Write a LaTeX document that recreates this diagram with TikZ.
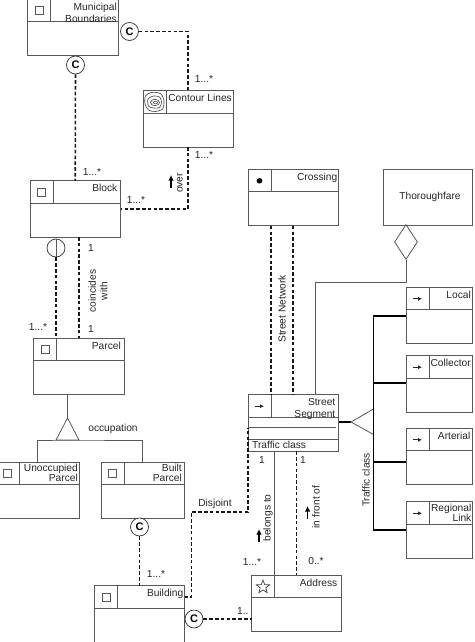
\documentclass[tikz,border=0pt]{standalone}
\usepackage{fontspec}
\setmainfont{Liberation Sans}
\usetikzlibrary{arrows.meta, positioning, calc, shapes.geometric}

\tikzset{
    classrect/.style={draw=black!65,line width=0.8pt,inner sep=0pt,outer sep=0pt,anchor=north west,minimum height=56.5pt},
    classline/.style={draw=black!65,line width=0.8pt},
    classtitle/.style={anchor=north east,inner sep=0pt,align=right,font=\fontsize{10.2}{12}\selectfont,text=black!85},
    lbl/.style={inner sep=0pt,align=center,font=\fontsize{10.2}{11.5}\selectfont,text=black!85},
    assoc/.style={line width=1.6pt,dash pattern=on 3.6pt off 2.2pt,black!90},
    cmark/.style={circle,draw=black!80,line width=0.7pt,fill=white,inner sep=0pt,minimum size=18pt,font=\fontsize{11}{11}\selectfont\bfseries},
    treeline/.style={line width=1.7pt,black},
    uparrow/.style={line width=1.3pt,-{Latex[length=5.5pt,width=5.5pt]},black},
    tighttitle/.style={yshift=1.6pt,font=\fontsize{10.2}{10}\selectfont},
}

\newcommand{\iconsquare}{\draw[black!65,line width=0.7pt] (-4,-4) rectangle (4,4);}
\newcommand{\iconarrow}{\draw[black!85,line width=0.8pt,-{Latex[length=4pt,width=4pt]}] (-5,0) -- (4.5,0);}

% name, x, y, width, title options, title, icon
\newcommand{\classbox}[7]{
    \node[classrect,minimum width=#4pt] (#1) at (#2,#3) {};
    \draw[classline] ({#2},{#3+22.5}) -- ++(#4,0);
    \draw[classline] ({#2+23},#3) -- ++(0,22.5);
    \coordinate (#1div) at ({#2+23},#3);
    \node[classtitle,#5] (#1title) at ({#2+#4},{#3+3.6}) {#6};
    \begin{scope}[shift={({#2+11.5},{#3+11.5})}] #7 \end{scope}
}

\begin{document}
\begin{tikzpicture}[x=1pt,y=-1pt]

    \clip (0,0) rectangle (474,642);

    % 左列
    \classbox{municipal}{27.5}{-1}{90.5}{xshift=-1pt}{Municipal\\Boundaries}{\iconsquare}
    \classbox{block}{30}{180.5}{90.5}{xshift=-3pt}{Block}{\iconsquare}
    \classbox{parcel}{33.5}{338}{90.5}{xshift=-3pt}{Parcel}{\iconsquare}
    \classbox{unoccupied}{-4}{462}{83}{xshift=-1pt,tighttitle}{Unoccupied\\Parcel}{\iconsquare}
    \classbox{built}{101}{462}{83.5}{xshift=-2.5pt,tighttitle}{Built\\Parcel}{\iconsquare}
    \classbox{building}{94.5}{585.5}{90}{xshift=-1pt}{Building}{\iconsquare}

    % 等高线
    \classbox{contour}{143}{90.5}{90}{xshift=-1pt}{Contour Lines}{
        \draw[black!75,line width=0.6pt] plot[smooth cycle] coordinates {(-9,-6) (-3,-9.5) (6,-8.5) (9.5,-1) (8,7) (1,9.5) (-6,8) (-9.5,2)};
        \draw[black!75,line width=0.6pt] plot[smooth cycle] coordinates {(-6.5,-3) (-1,-6) (5,-5) (7,0) (5,5.5) (-1,6) (-6,4)};
        \draw[black!75,line width=0.6pt] (0.5,0.5) ellipse (4.5 and 3.2);
        \draw[black!75,line width=0.6pt] (1,0.5) ellipse (2 and 1.4);
    }

    % 中列
    \classbox{crossing}{248}{169.3}{90.5}{xshift=-1pt}{Crossing}{
        \fill[black] (0,0) circle (2.8);
    }
    \classbox{street}{248}{394.7}{90.5}{xshift=-3pt}{Street\\Segment}{\iconarrow}
    \classbox{address}{251.5}{575}{90}{xshift=-4pt}{Address}{
        \node[star,star points=5,star point ratio=2.4,draw=black!75,line width=0.7pt,inner sep=0pt,minimum size=14pt] (addressstar) at (0,0.5) {};
    }

    % 街段的属性栏
    \draw[classline] (248,427.7) -- (336,427.7);
    \draw[classline] (248,439.3) -- (338.5,439.3);
    \node[lbl,anchor=west] (trafficattr) at (252,444.8) {Traffic class};

    % 右列
    \node[classrect,minimum width=89.5pt] (thoroughfare) at (383,169.3) {};
    \node[lbl] (thoroughfarename) at (430,197) {Thoroughfare};
    \classbox{local}{406}{287.3}{66.5}{xshift=-1.5pt}{Local}{\iconarrow}
    \classbox{collector}{406}{355.7}{66.5}{xshift=-1.5pt}{Collector}{\iconarrow}
    \classbox{arterial}{406}{428.3}{66.5}{xshift=-2pt}{Arterial}{\iconarrow}
    \classbox{regional}{406}{501.7}{66.5}{xshift=-1pt,tighttitle}{Regional\\Link}{\iconarrow}

    % 圆圈
    \node[cmark] (cmunicipal) at (129.5,31.5) {C};
    \node[cmark] (cblock) at (75.5,65) {C};
    \node[cmark] (cbuilt) at (139.5,527) {C};
    \node[cmark] (cbuilding) at (194,619) {C};
    \node[cmark] (barmark) at (56,248) {};

    % 虚线关联
    \draw[assoc] (cmunicipal) -| (contour.north);
    \draw[assoc] (cblock) -- (block.north);
    \draw[assoc] (contour.south) |- ($(block.north east)+(0,28.5)$);
    \draw[assoc] (barmark.south) -- (barmark.south |- parcel.north);
    \draw[classline] (barmark.north) -- (barmark.south);
    \draw[assoc] (parcel.north |- block.south) -- (parcel.north);
    \draw[assoc] (cbuilt) -- (cbuilt |- building.north);
    \draw[assoc] (cbuilding) -- (address.west |- cbuilding);
    \draw[assoc] (crossingdiv |- crossing.south) -- (crossingdiv |- street.north);
    \draw[assoc] (crossing.south) -- (street.north);
    \draw[assoc] (address.north |- street.south) -- (address.north);
    \coordinate (disjointbend) at (191.5,512);
    \draw[assoc] ($(building.north east)+(0,11.5)$) -| (disjointbend) -| ($(street.north west)+(0,33)$);

    % 实线
    \draw[classline] (addressdiv |- street.south) -- (addressdiv);

    % 泛化
    \coordinate (occupationapex) at (67.5,418);
    \coordinate (occupationbar) at (67.5,440);
    \draw[classline] (occupationapex |- parcel.south) -- (occupationapex);
    \draw[classline] (occupationapex) -- (56,440) -- (79,440) -- cycle;
    \draw[classline] (unoccupied.north) |- (occupationbar) -| (built.north);

    % 聚合
    \node[draw=black!65,line width=0.8pt,diamond,aspect=0.66,inner sep=0pt,minimum width=23pt,minimum height=35pt,fill=white] (aggregation) at (406,242) {};
    \coordinate (aggregationbend) at (315.5,282);
    \draw[classline] (aggregation.south) |- (aggregationbend) -- (aggregationbend |- street.north);

    % 道路分类
    \coordinate (trafficapex) at (351,422);
    \coordinate (treetop) at (373.5,315.7);
    \coordinate (treebottom) at (373.5,530);
    \draw[treeline] (street.east |- trafficapex) -- (trafficapex);
    \draw[classline] (373.5,409) -- (trafficapex) -- (373.5,434.5);
    \draw[treeline] (local.west |- treetop) -- (treetop) -- (treebottom) -- (regional.west |- treebottom);
    \draw[treeline] (373.5,383) -- (collector.west |- 0,383);
    \draw[treeline] (373.5,462) -- (arterial.west |- 0,462);

    % 基数
    \node[lbl] (lblcontourtop) at (204,79) {1...*};
    \node[lbl] (lblcontourbottom) at (204,155) {1...*};
    \node[lbl] (lblblocktop) at (92,172) {1...*};
    \node[lbl] (lblblockright) at (136,200) {1...*};
    \node[lbl] (lblparcelleft) at (38,327) {1...*};
    \node[lbl] (lblblockone) at (91,248) {1};
    \node[lbl] (lblparcelone) at (91,329) {1};
    \node[lbl] (lblbuildingtop) at (156,574) {1...*};
    \node[lbl,anchor=west] (lblbuildingright) at (237,611) {1..};
    \node[lbl] (lblstreetone) at (262,460) {1};
    \node[lbl] (lblstreettwo) at (303,460) {1};
    \node[lbl] (lbladdressleft) at (252,562) {1...*};
    \node[lbl] (lbladdressright) at (316,561) {0..*};

    % 关联名
    \node[lbl,rotate=90] (lblover) at (180,183) {over};
    \node[lbl,rotate=90] (lblcoincides) at (98,291) {coincides\\with};
    \node[lbl] (lbloccupation) at (113,429) {occupation};
    \node[lbl] (lbldisjoint) at (215,504) {Disjoint};
    \node[lbl,rotate=90] (lblnetwork) at (282,309) {Street Network};
    \node[lbl,rotate=90] (lblbelongs) at (268,518) {belongs to};
    \node[lbl,rotate=90] (lblfront) at (316,507) {in front of};
    \node[lbl,rotate=90] (lbltraffic) at (366,480) {Traffic class};

    % 小箭头
    \coordinate (arrowover) at (171,188);
    \coordinate (arrowbelongs) at (259,542);
    \coordinate (arrowfront) at (307.5,519);
    \draw[uparrow] (arrowover) -- ++(0,-13);
    \draw[uparrow] (arrowbelongs) -- ++(0,-13);
    \draw[uparrow] (arrowfront) -- ++(0,-13);

\end{tikzpicture}
\end{document}
